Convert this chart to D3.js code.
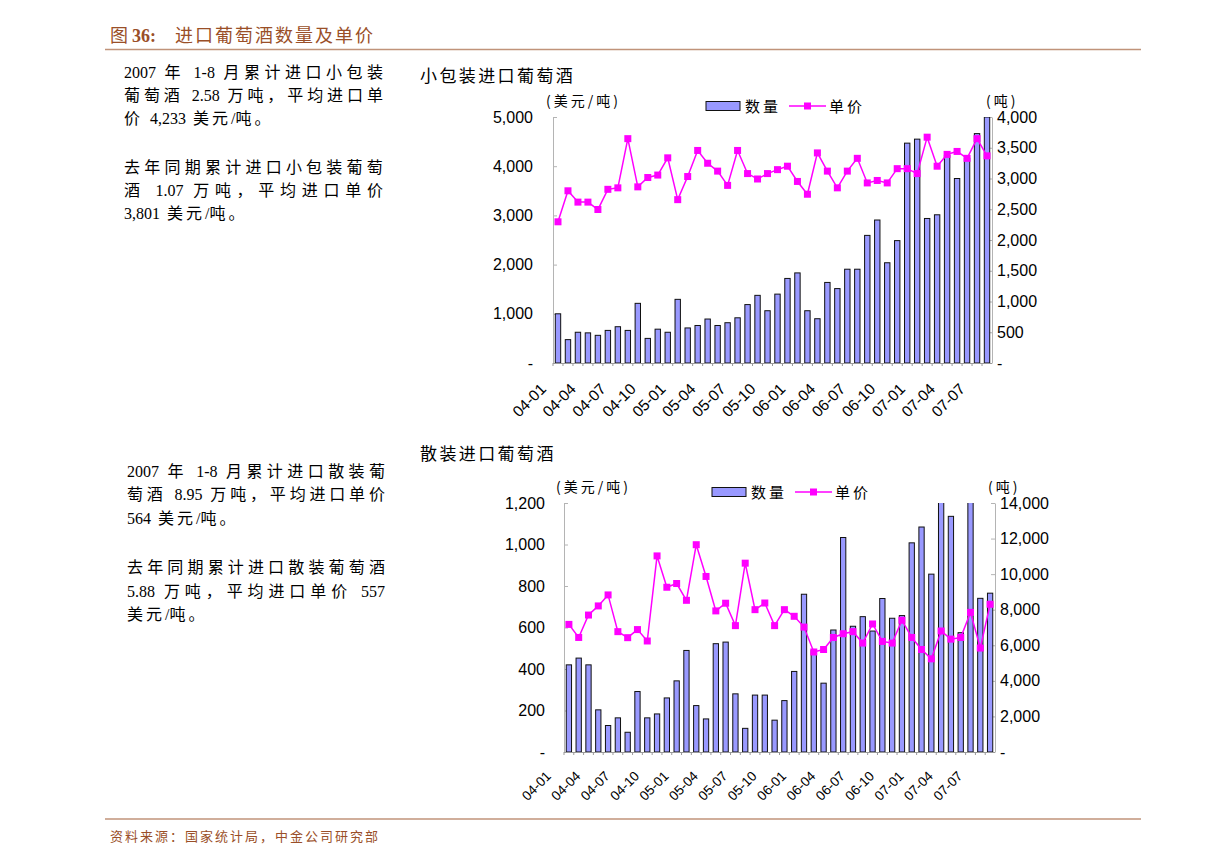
<!DOCTYPE html>
<html>
<head>
<meta charset="utf-8">
<script src="https://cdn.jsdelivr.net/npm/d3@7"></script>
<style>
  body { margin: 0; background: #ffffff; }
</style>
</head>
<body>
<div id="chart"></div>
<script>
// months 2004-01 .. 2007-08
const months = [
  "04-01","04-02","04-03","04-04","04-05","04-06","04-07","04-08","04-09","04-10","04-11","04-12",
  "05-01","05-02","05-03","05-04","05-05","05-06","05-07","05-08","05-09","05-10","05-11","05-12",
  "06-01","06-02","06-03","06-04","06-05","06-06","06-07","06-08","06-09","06-10","06-11","06-12",
  "07-01","07-02","07-03","07-04","07-05","07-06","07-07","07-08"
];

// small packaged wine: quantity (tons, right axis), unit price (USD/ton, left axis)
const smallQty = [800, 380, 500, 490, 450, 530, 590, 530, 970, 400, 550, 500,
  1035, 570, 610, 715, 610, 655, 735, 950, 1100, 850, 1120, 1375,
  1465, 850, 720, 1310, 1210, 1525, 1525, 2075, 2325, 1630, 1990, 3575,
  3640, 2350, 2410, 3375, 3000, 3330, 3730, 4000];
const smallPrice = [2870, 3500, 3270, 3270, 3120, 3530, 3560, 4560, 3580, 3770, 3820, 4170,
  3320, 3790, 4320, 4060, 3900, 3610, 4320, 3850, 3740, 3850, 3930, 4000,
  3690, 3430, 4270, 3900, 3560, 3900, 4160, 3660, 3710, 3660, 3950, 3950,
  3850, 4590, 4000, 4240, 4300, 4160, 4560, 4210];

// bulk wine
const bulkQty = [4900, 5280, 4900, 2370, 1490, 1920, 1110, 3400, 1920, 2140, 3040, 4000,
  5710, 2610, 1860, 6090, 6180, 3270, 1330, 3200, 3200, 1790, 2890, 4530,
  8870, 5700, 3870, 6860, 12060, 7070, 7610, 6800, 8630, 7520, 7670, 11760,
  12650, 10000, 14600, 13250, 6710, 14700, 8640, 8930];
const bulkPrice = [615, 552, 660, 704, 757, 580, 551, 590, 535, 945, 794, 812,
  731, 999, 846, 680, 717, 609, 910, 686, 718, 609, 686, 654,
  602, 482, 494, 552, 570, 580, 525, 617, 533, 525, 635, 552,
  494, 449, 583, 544, 552, 673, 501, 712];

const smallPriceTicks = [0, 1000, 2000, 3000, 4000, 5000];
const smallQtyTicks = [0, 500, 1000, 1500, 2000, 2500, 3000, 3500, 4000];
const bulkPriceTicks = [0, 200, 400, 600, 800, 1000, 1200];
const bulkQtyTicks = [0, 2000, 4000, 6000, 8000, 10000, 12000, 14000];

const note1 = [
  "2007 年 1-8 月累计进口小包装",
  "葡萄酒 2.58 万吨，平均进口单",
  "价 4,233 美元/吨。",
  "去年同期累计进口小包装葡萄",
  "酒 1.07 万吨，平均进口单价",
  "3,801 美元/吨。"
];
const note2 = [
  "2007 年 1-8 月累计进口散装葡",
  "萄酒 8.95 万吨，平均进口单价",
  "564 美元/吨。",
  "去年同期累计进口散装葡萄酒",
  "5.88 万吨，平均进口单价 557",
  "美元/吨。"
];

const brown = "#9a4f28";
const ruleColor = "#c0937a";
const cjk = "'Noto Sans CJK SC', sans-serif";
const serif = "'Liberation Serif', 'Noto Sans CJK SC', serif";
const sans = "'Liberation Sans', Arial, sans-serif";

const svg = d3.select("#chart")
  .append("svg")
  .attr("width", 1224)
  .attr("height", 864)
  .style("background", "#ffffff");

// Header
const title = svg.append("text")
  .attr("x", 110)
  .attr("y", 42)
  .style("font-size", "18px")
  .style("fill", brown);
title.append("tspan").style("font-family", cjk).text("图 ");
title.append("tspan").style("font-family", serif).style("font-weight", "bold").text("36:");
title.append("tspan").attr("x", 175).style("font-family", cjk).style("letter-spacing", "2px")
  .text("进口葡萄酒数量及单价");

svg.append("line")
  .attr("x1", 105).attr("x2", 1141)
  .attr("y1", 49.5).attr("y2", 49.5)
  .attr("stroke", ruleColor).attr("stroke-width", 1.5);

// Footer
svg.append("line")
  .attr("x1", 105).attr("x2", 1141)
  .attr("y1", 819).attr("y2", 819)
  .attr("stroke", ruleColor).attr("stroke-width", 1.5);

svg.append("text")
  .attr("x", 110)
  .attr("y", 841)
  .style("font-family", cjk)
  .style("font-size", "13px")
  .style("letter-spacing", "2px")
  .style("fill", brown)
  .text("资料来源：国家统计局，中金公司研究部");

// Side notes: extra spacing goes after Chinese characters and spaces, not inside numbers
const isSlot = /^([\u3000-\u9fff\uff00-\uffef]|\s)$/;
function drawNote(lines, x, baselines, width, justify) {
  lines.forEach((t, i) => {
    const txt = svg.append("text")
      .attr("x", x)
      .attr("y", baselines[i])
      .attr("xml:space", "preserve")
      .style("white-space", "pre")
      .style("font-family", serif)
      .style("font-size", "16px")
      .style("fill", "#000");
    const parts = t.match(/[\u3000-\u9fff\uff00-\uffef]|\s|[^\u3000-\u9fff\uff00-\uffef\s]+/g);
    parts.forEach(p => txt.append("tspan")
      .attr("class", isSlot.test(p) ? "slot" : "run")
      .text(p));
    let s = 3;
    if (justify[i]) {
      const natural = txt.node().getComputedTextLength();
      const n = parts.filter(p => isSlot.test(p)).length
        - (isSlot.test(parts[parts.length - 1]) ? 1 : 0);
      s = (width - natural) / n;
    }
    txt.selectAll("tspan.slot").style("letter-spacing", s + "px");
  });
}
drawNote(note1, 124, [78, 101, 124, 173, 196, 219], 259, [1, 1, 0, 1, 1, 0]);
drawNote(note2, 127, [477, 500, 524, 573, 597, 620], 258, [1, 1, 0, 1, 1, 0]);

// Combo chart: bars on right axis (tons), line on left axis (USD/ton)
function drawChart(o) {
  const g = svg.append("g");

  const x = d3.scaleBand().domain(months).range([o.left, o.right]);
  const bw = x.bandwidth();
  const yP = d3.scaleLinear().domain([0, d3.max(o.priceTicks)]).range([o.bottom, o.top]);
  const yQ = d3.scaleLinear().domain([0, d3.max(o.qtyTicks)]).range([o.bottom, o.top]);
  const fmt = d => d === 0 ? "-" : d3.format(",")(d);

  // chart title
  g.append("text")
    .attr("x", 420)
    .attr("y", o.titleY)
    .style("font-family", cjk)
    .style("font-size", "17px")
    .style("letter-spacing", "2.4px")
    .style("fill", "#000")
    .text(o.title);

  // unit labels
  g.append("text")
    .attr("x", o.unitLeftX).attr("y", o.unitY)
    .style("font-family", cjk).style("font-size", "14px").style("letter-spacing", "3px")
    .text("(美元/吨)");
  g.append("text")
    .attr("x", o.unitRightX).attr("y", o.unitY)
    .style("font-family", cjk).style("font-size", "14px").style("letter-spacing", "3px")
    .text("(吨)");

  // left axis
  const left = g.append("g")
    .attr("transform", `translate(${o.left},0)`)
    .call(d3.axisLeft(yP).tickValues(o.priceTicks).tickFormat(fmt)
      .tickSize(-4).tickSizeOuter(0).tickPadding(o.padLeft));

  // right axis
  const right = g.append("g")
    .attr("transform", `translate(${o.right},0)`)
    .call(d3.axisRight(yQ).tickValues(o.qtyTicks).tickFormat(fmt)
      .tickSize(-4).tickSizeOuter(0).tickPadding(5));

  [left, right].forEach(a => {
    a.select(".domain").attr("stroke", "#b4b4b4");
    a.selectAll(".tick line").attr("stroke", "#b4b4b4");
    a.selectAll(".tick text")
      .style("font-family", sans)
      .style("font-size", "16px")
      .style("fill", "#000");
  });

  // category boundary ticks
  g.append("g")
    .selectAll("line")
    .data(months)
    .join("line")
    .attr("x1", d => x(d)).attr("x2", d => x(d))
    .attr("y1", o.bottom).attr("y2", o.bottom + 3)
    .attr("stroke", "#999");

  const clipId = "clip-" + o.id;
  g.append("clipPath").attr("id", clipId)
    .append("rect")
    .attr("x", o.left).attr("y", o.top)
    .attr("width", o.right - o.left).attr("height", o.bottom - o.top + 1);

  // bars
  g.append("g")
    .attr("clip-path", `url(#${clipId})`)
    .selectAll("rect")
    .data(o.qty)
    .join("rect")
    .attr("x", (d, i) => x(months[i]) + bw * 0.23)
    .attr("width", bw * 0.54)
    .attr("y", d => yQ(d))
    .attr("height", d => o.bottom - yQ(d))
    .attr("fill", "#9999ff")
    .attr("stroke", "#111")
    .attr("stroke-width", 1);

  // baseline
  g.append("line")
    .attr("x1", o.left).attr("x2", o.right)
    .attr("y1", o.bottom + 0.5).attr("y2", o.bottom + 0.5)
    .attr("stroke", "#999");

  // price line
  g.append("path")
    .datum(o.price)
    .attr("fill", "none")
    .attr("stroke", "#ff00ff")
    .attr("stroke-width", 1.5)
    .attr("d", d3.line()
      .x((d, i) => x(months[i]) + bw / 2)
      .y(d => yP(d)));

  g.append("g")
    .selectAll("rect")
    .data(o.price)
    .join("rect")
    .attr("x", (d, i) => x(months[i]) + bw / 2 - 3.5)
    .attr("y", d => yP(d) - 3.5)
    .attr("width", 7)
    .attr("height", 7)
    .attr("fill", "#ff00ff");

  // x labels every quarter
  const xa = g.append("g")
    .attr("transform", `translate(0,${o.bottom})`)
    .call(d3.axisBottom(x)
      .tickValues(months.filter((d, i) => i % 3 === 0))
      .tickSize(0).tickPadding(0));
  xa.select(".domain").remove();
  xa.selectAll(".tick text")
    .attr("y", 0)
    .attr("dy", 0)
    .attr("transform", `translate(${o.labelDx},${o.labelDy}) rotate(-45)`)
    .style("text-anchor", "end")
    .style("font-family", sans)
    .style("font-size", o.labelSize)
    .style("fill", "#000");

  // legend
  const lg = g.append("g");
  lg.append("rect")
    .attr("x", o.legendX).attr("y", o.legendY - 4.5)
    .attr("width", 34).attr("height", 9)
    .attr("fill", "#9999ff").attr("stroke", "#111");
  lg.append("text")
    .attr("x", o.legendX + 39).attr("y", o.legendY + 5.5)
    .style("font-family", cjk).style("font-size", "15px").style("letter-spacing", "3px")
    .text("数量");
  lg.append("line")
    .attr("x1", o.legendX + 83).attr("x2", o.legendX + 120)
    .attr("y1", o.legendY).attr("y2", o.legendY)
    .attr("stroke", "#ff00ff").attr("stroke-width", 1.5);
  lg.append("rect")
    .attr("x", o.legendX + 98).attr("y", o.legendY - 3.5)
    .attr("width", 7).attr("height", 7)
    .attr("fill", "#ff00ff");
  lg.append("text")
    .attr("x", o.legendX + 123).attr("y", o.legendY + 5.5)
    .style("font-family", cjk).style("font-size", "15px").style("letter-spacing", "3px")
    .text("单价");
}

drawChart({
  id: "small", title: "小包装进口葡萄酒", titleY: 82,
  left: 553, right: 992, top: 117, bottom: 363,
  qty: smallQty, price: smallPrice,
  priceTicks: smallPriceTicks, qtyTicks: smallQtyTicks,
  padLeft: 20, unitLeftX: 546, unitRightX: 986, unitY: 106,
  labelDx: -11, labelDy: 27, labelSize: "15.5px",
  legendX: 706, legendY: 106
});

drawChart({
  id: "bulk", title: "散装进口葡萄酒", titleY: 460,
  left: 564, right: 995, top: 503, bottom: 752,
  qty: bulkQty, price: bulkPrice,
  priceTicks: bulkPriceTicks, qtyTicks: bulkQtyTicks,
  padLeft: 19, unitLeftX: 556, unitRightX: 988, unitY: 492,
  labelDx: -17, labelDy: 25, labelSize: "13.5px",
  legendX: 712, legendY: 492
});
</script>
</body>
</html>
